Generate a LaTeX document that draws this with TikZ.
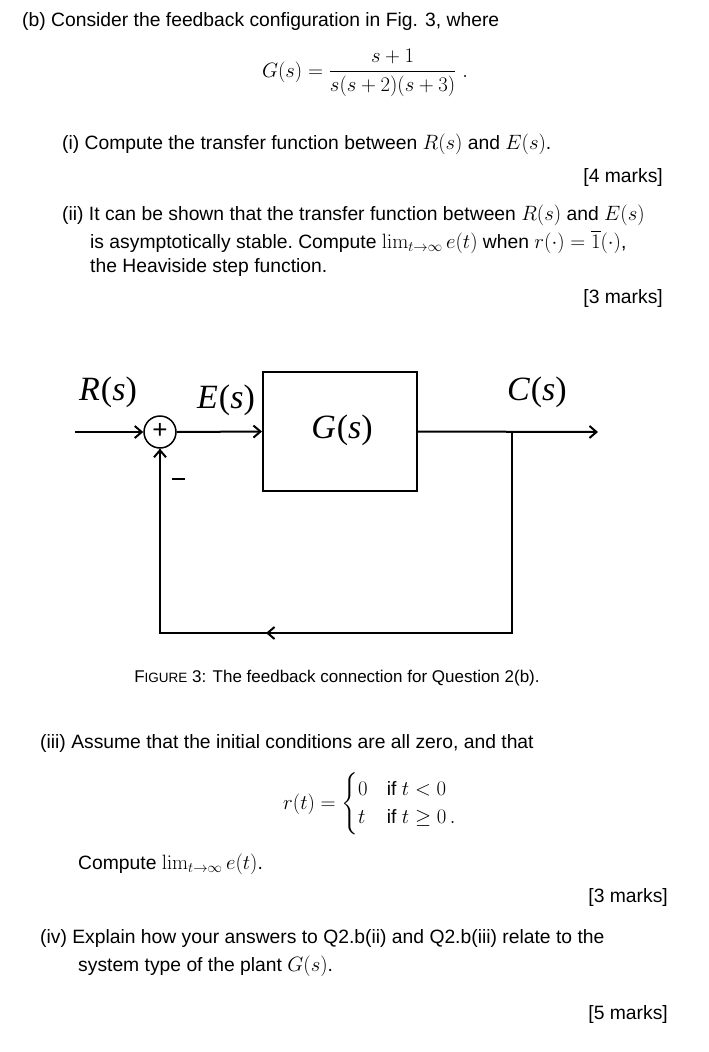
\documentclass[tikz,border=0pt]{standalone}
\usepackage{amsmath}
\usepackage[no-math]{fontspec}
\usetikzlibrary{arrows.meta}
\setmainfont{Liberation Sans}
\newfontfamily\tms{Liberation Serif}
\newcommand{\lbltxt}[1]{{\itshape #1}\kern1pt({\itshape s})}
\begin{document}
\begin{tikzpicture}[x=1pt,y=-1pt,
  txt/.style={anchor=west,inner sep=0pt,font=\fontsize{19.3}{23}\selectfont},
  mk/.style={anchor=east,inner sep=0pt,font=\fontsize{19.3}{23}\selectfont},
  lbl/.style={inner sep=0pt,font=\fontsize{34}{36}\selectfont\tms},
  wire/.style={line width=2pt},
  arr/.style={wire,-{Straight Barb[length=7pt,width=12pt,line width=2pt]}}]
\useasboundingbox (0,0) rectangle (709,1052);
\node[txt] (b) at (22,22) {(b) Consider the feedback configuration in Fig. 3, where};
\node[inner sep=0pt,font=\fontsize{19.3}{23}\selectfont] (geq) at (365,73) {$\displaystyle G(s)=\frac{s+1}{s(s+2)(s+3)}\;.$};
\node[txt] (i) at (62,144) {(i) Compute the transfer function between $R(s)$ and $E(s)$.};
\node[mk] (m1) at (663,178) {[4 marks]};
\node[txt] (ii) at (62,215) {(ii) It can be shown that the transfer function between $R(s)$ and $E(s)$};
\node[txt] (ii2) at (90,242) {is asymptotically stable.\ Compute $\lim_{t\to\infty}e(t)$ when $r(\cdot)=\overline{1}(\cdot)$,};
\node[txt] (ii3) at (90,268) {the Heaviside step function.};
\node[mk] (m2) at (663,299) {[3 marks]};
% diagram
\node[draw,line width=2pt,minimum width=154pt,minimum height=119pt,inner sep=0pt] (G) at (340,431.5) {};
\node[lbl] at (342,430) {\lbltxt{G}};
\node[draw,circle,line width=1.5pt,minimum size=32pt,inner sep=0pt] (sum) at (160,432) {};
\node[inner sep=0pt,font=\fontsize{26}{26}\selectfont] at (160,431) {+};
\coordinate (in) at (75,432);
\coordinate (out) at (598,432);
\coordinate (br) at (512,432);
\coordinate (c1) at (512,633);
\coordinate (c2) at (160,633);
\coordinate (mid) at (266,633);
\draw[arr] (in) -- (sum.west);
\draw[arr] (sum.east) -- (G.west);
\draw[arr] (G.east) -- (out);
\draw[wire] (br) -- (c1) -- (c2) -- (sum.south);
\draw[arr] (c1) -- (mid);
\draw[arr] (c2) -- (sum.south);
\draw[line width=2pt] (172,479) -- (185,479);
\node[lbl] at (108,392) {\lbltxt{R}};
\node[lbl] at (226,400) {\lbltxt{E}};
\node[lbl] at (537,392) {\lbltxt{C}};
\node[inner sep=0pt,font=\fontsize{17}{20}\selectfont] (cap) at (337,678) {F{\fontsize{13.5}{16}\selectfont IGURE} 3: The feedback connection for Question 2(b).};
% rest
\node[txt] (iii) at (40,743) {(iii) Assume that the initial conditions are all zero, and that};
\node[inner sep=0pt,font=\fontsize{19.3}{23}\selectfont] (req) at (370,804) {$r(t)=\begin{cases}0 & \text{\rmfamily if } t<0\\ t & \text{\rmfamily if } t\geq 0\,.\end{cases}$};
\node[txt] (c) at (78,864) {Compute $\lim_{t\to\infty}e(t)$.};
\node[mk] (m3) at (668,897) {[3 marks]};
\node[txt] (iv) at (40,938) {(iv) Explain how your answers to Q2.b(ii) and Q2.b(iii) relate to the};
\node[txt] (iv2) at (78,966) {system type of the plant $G(s)$.};
\node[mk] (m4) at (668,1014) {[5 marks]};
\end{tikzpicture}
\end{document}
